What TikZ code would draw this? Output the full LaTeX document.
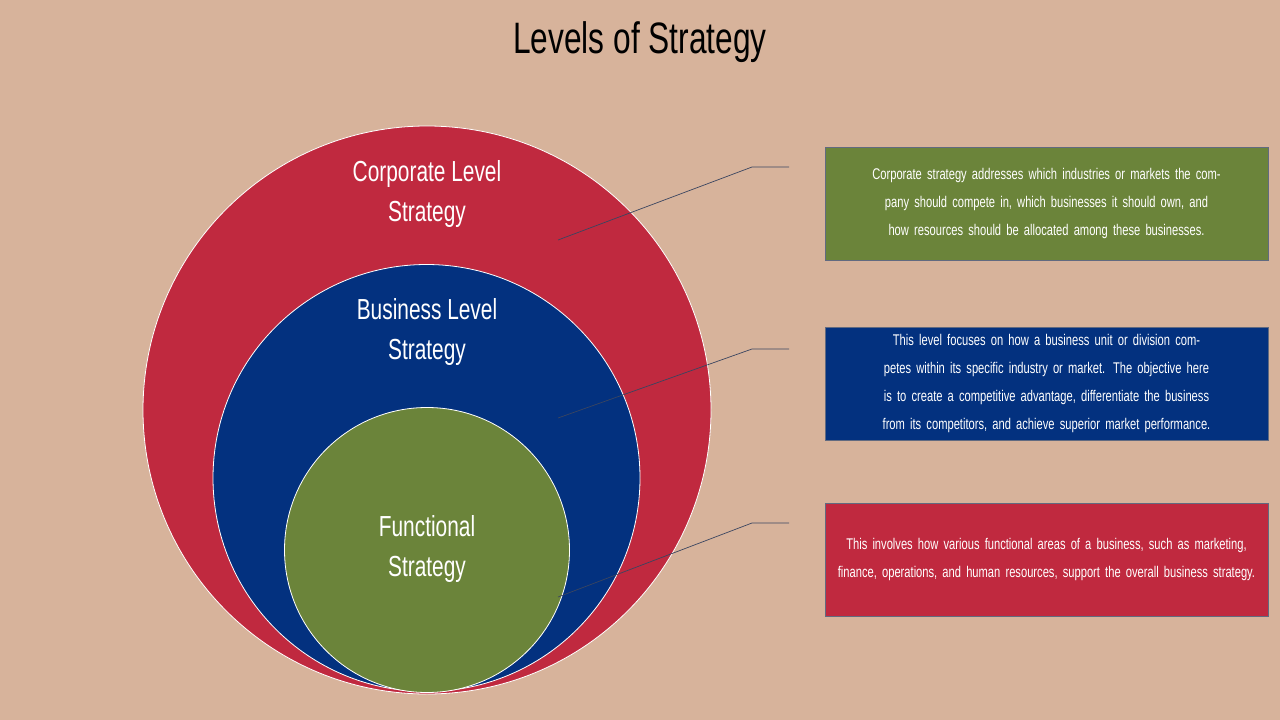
\documentclass[tikz,border=0pt]{standalone}
\usepackage{fontspec}
\setmainfont{Liberation Sans}[FakeStretch=0.72]
\definecolor{bg}{HTML}{D7B39B}
\definecolor{cred}{HTML}{C0293F}
\definecolor{cblue}{HTML}{03317F}
\definecolor{cgreen}{HTML}{6B843A}
\definecolor{cline}{HTML}{3A4560}
\begin{document}
\begin{tikzpicture}[x=1pt,y=-1pt,
  ring/.style={circle,draw=white,line width=0.8pt,inner sep=0pt},
  lbl/.style={text=white,align=center,font=\fontsize{29}{40}\selectfont},
  infobox/.style={draw=cline!80,line width=0.6pt,text=white,align=center,minimum width=443pt,minimum height=113pt,text width=420pt,font=\fontsize{15.5}{28}\selectfont},
  conn/.style={draw=cline,line width=0.7pt}]
\fill[bg] (0,0) rectangle (1280,720);
\useasboundingbox (0,0) rectangle (1280,720);
\node[font=\fontsize{44}{50}\selectfont] (title) at (640,42) {Levels of Strategy};
\node[ring,fill=cred,minimum size=568pt] (outer) at (427,410) {};
\node[ring,fill=cblue,minimum size=427pt] (mid) at (426.5,478) {};
\node[ring,fill=cgreen,minimum size=285pt] (inner) at (427,550) {};
\node[lbl] (l1) at (427,194) {Corporate Level\\Strategy};
\node[lbl] (l2) at (427,332) {Business Level\\Strategy};
\node[lbl] (l3) at (427,549) {Functional\\Strategy};
\node[infobox,fill=cgreen] (b1) at (1046.5,203.5) {Corporate strategy addresses which industries or markets the company should compete in, which businesses it should own, and how resources should be allocated among these businesses.};
\node[infobox,fill=cblue] (b2) at (1046.5,383.5) {This level focuses on how a business unit or division competes within its specific industry or market. The objective here is to create a competitive advantage, differentiate the business from its competitors, and achieve superior market performance.};
\node[infobox,fill=cred] (b3) at (1046.5,559.5) {This involves how various functional areas of a business, such as marketing, finance, operations, and human resources, support the overall business strategy.};
\coordinate (p1) at (558,240); \coordinate (k1) at (752,167); \coordinate (e1) at (789,167);
\coordinate (p2) at (558,418); \coordinate (k2) at (752,349); \coordinate (e2) at (789,349);
\coordinate (p3) at (558,597); \coordinate (k3) at (752,523); \coordinate (e3) at (789,523);
\draw[conn] (p1) -- (k1) -- (e1);
\draw[conn] (p2) -- (k2) -- (e2);
\draw[conn] (p3) -- (k3) -- (e3);
\end{tikzpicture}
\end{document}
